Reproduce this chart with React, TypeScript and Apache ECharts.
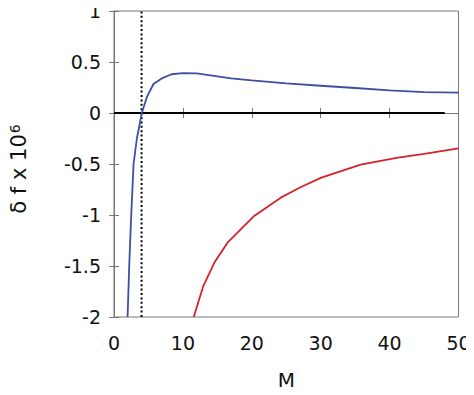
import React, { useEffect, useRef } from "react";
import * as echarts from "echarts";

const blueM = [1.97, 2.21, 2.5, 2.84, 3.32, 4.04, 4.76, 5.73, 6.93, 8.37, 10, 12, 15, 17, 20, 25, 30, 35, 40, 45, 50];
const blueDf = [-2, -1.5, -1, -0.5, -0.25, 0, 0.155, 0.284, 0.339, 0.38, 0.39, 0.388, 0.36, 0.34, 0.32, 0.29, 0.267, 0.245, 0.222, 0.205, 0.2];
const redM = [11.57, 12.94, 14.62, 16.55, 18.47, 20.39, 24.2, 27, 30, 35.8, 41, 45, 50];
const redDf = [-2, -1.7, -1.46, -1.265, -1.136, -1.007, -0.83, -0.73, -0.636, -0.507, -0.44, -0.4, -0.346];
const zeroLineM = [0, 48];
const markerM = 4;
const xTicks = [0, 10, 20, 30, 40, 50];
const yTicks = [-2, -1.5, -1, -0.5, 0, 0.5, 1];

export default function App() {
  const ref = useRef<HTMLDivElement>(null);
  useEffect(() => {
    if (!ref.current) return;
    const chart = echarts.init(ref.current, null, { renderer: "svg" });
    const font = "DejaVu Sans, sans-serif";
    const axisColor = "#777";
    const common = {
      type: "value" as const,
      axisLine: { show: true, lineStyle: { color: axisColor, width: 1 } },
      axisTick: { show: true, inside: true, length: 5, lineStyle: { color: axisColor } },
      splitLine: { show: false },
    };
    chart.setOption({
      animation: false,
      grid: { left: 112, right: 15.5, top: 11, bottom: 74, show: true, borderColor: axisColor, borderWidth: 1, backgroundColor: "transparent" },
      xAxis: [
        {
          ...common,
          min: xTicks[0],
          max: xTicks[xTicks.length - 1],
          interval: 10,
          position: "bottom",
          name: "M",
          nameLocation: "middle",
          nameGap: 53,
          nameTextStyle: { fontSize: 20, color: "#111", fontFamily: font },
          axisLabel: { fontSize: 19, color: "#111", fontFamily: font, margin: 16 },
        },
        {
          ...common,
          min: xTicks[0],
          max: xTicks[xTicks.length - 1],
          interval: 10,
          position: "top",
          axisLabel: { show: false },
        },
      ],
      yAxis: [
        {
          ...common,
          min: yTicks[0],
          max: yTicks[yTicks.length - 1],
          interval: 0.5,
          position: "left",
          name: "δ f x 10{sup|6}",
          nameLocation: "middle",
          nameRotate: 90,
          nameGap: 84,
          nameTextStyle: {
            fontSize: 21,
            color: "#111",
            fontFamily: font,
            padding: [0, 10, 0, 0],
            rich: {
              sup: { fontSize: 14, verticalAlign: "top", color: "#111", fontFamily: font, padding: [0, 0, 8, 1] },
            },
          },
          axisLabel: { fontSize: 19, color: "#111", fontFamily: font, margin: 13 },
        },
        {
          ...common,
          min: yTicks[0],
          max: yTicks[yTicks.length - 1],
          interval: 0.5,
          position: "right",
          axisLabel: { show: false },
        },
      ],
      series: [
        {
          type: "line",
          data: zeroLineM.map((m) => [m, 0]),
          symbol: "none",
          lineStyle: { color: "#000", width: 2 },
          silent: true,
        },
        {
          type: "line",
          data: [[markerM, yTicks[0]], [markerM, yTicks[yTicks.length - 1]]],
          symbol: "none",
          lineStyle: { color: "#000", width: 2, type: [2, 2.4] },
          silent: true,
        },
        {
          type: "line",
          data: blueM.map((m, i) => [m, blueDf[i]]),
          symbol: "none",
          lineStyle: { color: "#3d4fa3", width: 1.8 },
        },
        {
          type: "line",
          data: redM.map((m, i) => [m, redDf[i]]),
          symbol: "none",
          lineStyle: { color: "#d6222c", width: 1.8 },
        },
      ],
    });
    return () => chart.dispose();
  }, []);
  return <div ref={ref} style={{ width: 474, height: 395, margin: -8, background: "#fff" }} />;
}
